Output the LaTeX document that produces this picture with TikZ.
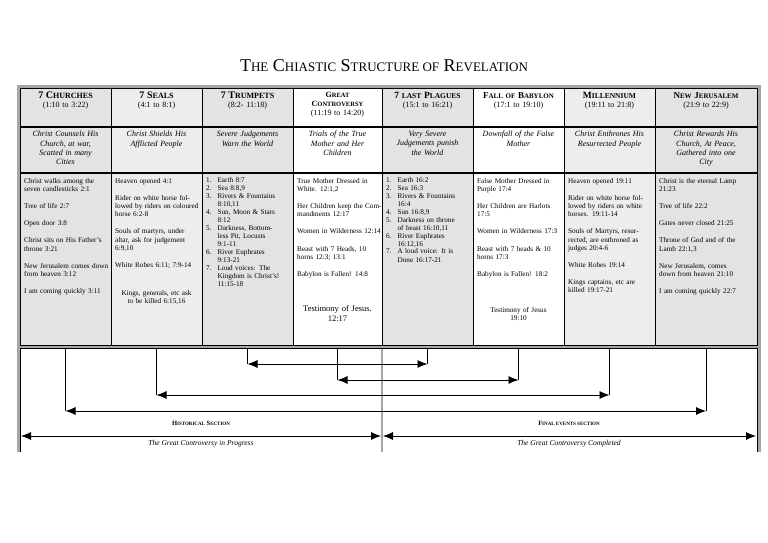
\documentclass[tikz,border=0pt]{standalone}
\usepackage{fontspec}
\setmainfont{Liberation Serif}
\usetikzlibrary{arrows.meta}
\newcommand\Sc[3]{#1{\fontsize{#3}{#3}\selectfont #2}}
\begin{document}
\begin{tikzpicture}[x=1pt,y=-1pt,>={Latex[length=10pt,width=8pt]},
  hd/.style={anchor=north,align=center,text width=88pt,font=\fontsize{8}{9}\selectfont,inner sep=1pt},
  sub/.style={anchor=north,align=center,text width=86pt,font=\fontsize{8}{9.3}\selectfont\itshape,inner sep=1pt},
  bd/.style={anchor=north west,align=left,text width=85pt,font=\fontsize{7.2}{8.2}\selectfont,inner sep=1pt},
  bc/.style={anchor=north,align=center,text width=85pt,font=\fontsize{7.2}{8.2}\selectfont,inner sep=1pt},
  darr/.style={<->,thick},
  stub/.style={thick}]
\useasboundingbox (0,0) rectangle (768,543);
\fill[white] (0,0) rectangle (768,543);
\node (title) at (384,66) {\fontsize{18}{18}\selectfont T\Sc{}{HE}{13} C\Sc{}{HIASTIC}{13} S\Sc{}{TRUCTURE OF}{13} R\Sc{}{EVELATION}{13}};
\foreach \a/\b/\c in {20/111/gray!22,111/202/gray!14,202/293/gray!22,293/382/white,382/473/gray!22,473/564/white,564/655/gray!14,655/757/gray!22}
  \fill[\c] (\a,88) rectangle (\b,345);
\draw[gray!70,line width=3pt] (18,86) rectangle (759,347);
\draw[line width=0.6pt] (20,88) rectangle (757,345);
\foreach \x in {111,202,293,382,473,564,655} \draw[line width=0.8pt] (\x,88) -- (\x,345);
\draw[line width=2.5pt] (20,127) -- (757,127);
\draw[line width=2.5pt] (20,173) -- (757,173);
% headers
\node[hd] (h1) at (65.5,91) {\textbf{\fontsize{10}{10}\selectfont 7 C\Sc{}{HURCHES}{8}}\\(1:10 to 3:22)};
\node[hd] (h2) at (156.5,91) {\textbf{\fontsize{10}{10}\selectfont 7 S\Sc{}{EALS}{8}}\\(4:1 to 8:1)};
\node[hd] (h3) at (247.5,91) {\textbf{\fontsize{10}{10}\selectfont 7 T\Sc{}{RUMPETS}{8}}\\(8:2- 11:18)};
\node[hd] (h4) at (337.5,91) {\textbf{\fontsize{8}{8}\selectfont G\Sc{}{REAT}{6.5}}\\\textbf{\fontsize{8}{8}\selectfont C\Sc{}{ONTROVERSY}{6.5}}\\(11:19 to 14:20)};
\node[hd] (h5) at (427.5,91) {\textbf{\fontsize{9.5}{10}\selectfont 7 \Sc{}{LAST}{7.5} P\Sc{}{LAGUES}{7.5}}\\(15:1 to 16:21)};
\node[hd] (h6) at (518.5,91) {\textbf{\fontsize{9}{10}\selectfont F\Sc{}{ALL OF}{7} B\Sc{}{ABYLON}{7}}\\(17:1 to 19:10)};
\node[hd] (h7) at (609.5,91) {\textbf{\fontsize{9.5}{10}\selectfont M\Sc{}{ILLENNIUM}{7.5}}\\(19:11 to 21:8)};
\node[hd] (h8) at (706,91) {\textbf{\fontsize{9}{10}\selectfont N\Sc{}{EW}{7} J\Sc{}{ERUSALEM}{7}}\\(21:9 to 22:9)};
% subtitles
\node[sub] (s1) at (65.5,130) {Christ Counsels His Church, at war,\\ Scatted in many\\ Cities};
\node[sub] (s2) at (156.5,130) {Christ Shields His\\ Afflicted People};
\node[sub] (s3) at (247.5,130) {Severe Judgements\\ Warn the World};
\node[sub] (s4) at (337.5,130) {Trials of the True\\ Mother and Her\\ Children};
\node[sub] (s5) at (427.5,130) {Very Severe\\ Judgements punish\\ the World};
\node[sub] (s6) at (518.5,130) {Downfall of the False\\ Mother};
\node[sub] (s7) at (609.5,130) {Christ Enthrones His\\ Resurrected People};
\node[sub] (s8) at (706,130) {Christ Rewards His\\ Church, At Peace,\\ Gathered into one\\ City};
% bodies
\node[bd] (b1) at (23,177) {Christ walks among the seven candlesticks 2:1\\[9pt]Tree of life 2:7\\[9pt]Open door 3:8\\[9pt]Christ sits on His Father's throne 3:21\\[9pt]New Jerusalem comes down from heaven 3:12\\[9pt]I am coming quickly 3:11};
\node[bd] (b2) at (114,177) {Heaven opened 4:1\\[9pt]Rider on white horse followed by riders on coloured horse 6:2-8\\[9pt]Souls of martyrs, under altar, ask for judgement 6:9,10\\[9pt]White Robes 6:11; 7:9-14};
\node[bc] (b2c) at (156.5,289) {Kings, generals, etc ask\\ to be killed 6:15,16};
\node[bd] (b3) at (205,176) {\renewcommand\arraystretch{0.95}\begin{tabular}{@{}l@{\hspace{6pt}}p{62pt}@{}}
1.&Earth 8:7\\2.&Sea 8:8,9\\3.&Rivers \& Fountains 8:10,11\\4.&Sun, Moon \& Stars 8:12\\5.&Darkness, Bottomless Pit, Locusts 9:1-11\\6.&River Euphrates 9:13-21\\7.&Loud voices: The Kingdom is Christ's! 11:15-18\end{tabular}};
\node[bd] (b4) at (296,177) {True Mother Dressed in White. 12:1,2\\[9pt]Her Children keep the Commandments 12:17\\[9pt]Women in Wilderness 12:14\\[9pt]Beast with 7 Heads, 10 horns 12:3; 13:1\\[9pt]Babylon is Fallen! 14:8};
\node[bc,font=\fontsize{8.5}{10}\selectfont] (b4c) at (337.5,304) {Testimony of Jesus.\\ 12:17};
\node[bd] (b5) at (385,176) {\renewcommand\arraystretch{0.95}\begin{tabular}{@{}l@{\hspace{6pt}}p{62pt}@{}}
1.&Earth 16:2\\2.&Sea 16:3\\3.&Rivers \& Fountains 16:4\\4.&Sun 16:8,9\\5.&Darkness on throne of beast 16:10,11\\6.&River Euphrates 16:12,16\\7.&A loud voice: It is Done 16:17-21\end{tabular}};
\node[bd] (b6) at (476,177) {False Mother Dressed in Purple 17:4\\[9pt]Her Children are Harlots 17:5\\[9pt]Women in Wilderness 17:3\\[9pt]Beast with 7 heads \& 10 horns 17:3\\[9pt]Babylon is Fallen! 18:2};
\node[bc] (b6c) at (518.5,306) {Testimony of Jesus\\ 19:10};
\node[bd] (b7) at (567,177) {Heaven opened 19:11\\[9pt]Rider on white horse followed by riders on white horses. 19:11-14\\[9pt]Souls of Martyrs, resurrected, are enthroned as judges 20:4-6\\[9pt]White Robes 19:14\\[9pt]Kings captains, etc are killed 19:17-21};
\node[bd] (b8) at (658,177) {Christ is the eternal Lamp 21:23\\[9pt]Tree of life 22:2\\[9pt]Gates never closed 21:25\\[9pt]Throne of God and of the Lamb 22:1,3\\[9pt]New Jerusalem, comes down from heaven 21:10\\[9pt]I am coming quickly 22:7};
% lower frame
\draw[gray!70,line width=3pt] (18,347) -- (18,452);
\draw[gray!70,line width=3pt] (759,347) -- (759,452);
\draw[line width=0.8pt] (20,348) -- (20,452);
\draw[line width=0.8pt] (757,348) -- (757,452);
\draw[gray!70,line width=2pt] (382,348) -- (382,452);
\draw[line width=0.6pt] (20,348) -- (757,348);
% chiastic arrows
\foreach \n/\a/\b/\y in {p3/247.5/427.5/364, p4/337.5/518.5/380, p2/156.5/609.5/395, p1/65.5/706/411}{
  \coordinate (\n a) at (\a,348); \coordinate (\n b) at (\b,348);
  \coordinate (\n c) at (\a,\y); \coordinate (\n d) at (\b,\y);
  \draw[stub] (\n a) -- (\n c);
  \draw[stub] (\n b) -- (\n d);
  \draw[darr] (\n c) -- (\n d);
}
% sections
\coordinate (l1) at (21,436); \coordinate (l2) at (381,436);
\coordinate (r1) at (383,436); \coordinate (r2) at (756,436);
\draw[darr] (l1) -- (l2);
\draw[darr] (r1) -- (r2);
\node[font=\fontsize{6.5}{6.5}\selectfont\bfseries] (hs) at (201,423) {H\Sc{}{ISTORICAL}{5} S\Sc{}{ECTION}{5}};
\node[font=\fontsize{6.5}{6.5}\selectfont\bfseries] (fs) at (569,423) {F\Sc{}{INAL EVENTS SECTION}{5}};
\node[font=\fontsize{7.5}{7.5}\selectfont\itshape] (hg) at (201,444) {The Great Controversy in Progress};
\node[font=\fontsize{7.5}{7.5}\selectfont\itshape] (fg) at (569,444) {The Great Controversy Completed};
\end{tikzpicture}
\end{document}
